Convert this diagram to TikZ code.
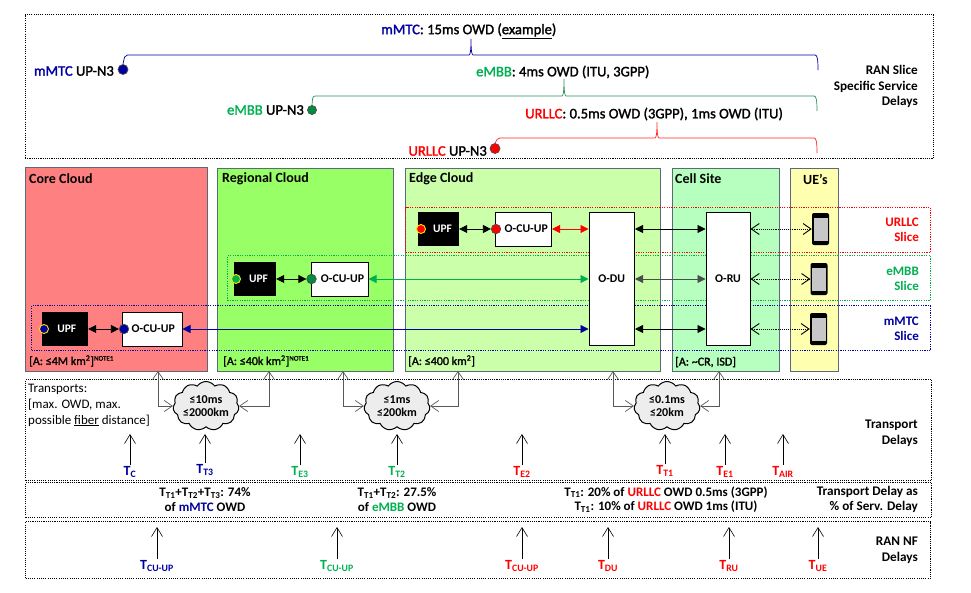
\documentclass[tikz,border=0pt]{standalone}
\usepackage{fontspec}
\setmainfont{Carlito}
\newfontfamily\semi[FakeBold=1.6]{Carlito}
\usetikzlibrary{arrows.meta,shapes.symbols,calc}
\definecolor{cmm}{HTML}{0000A0}
\definecolor{cem}{HTML}{00B050}
\definecolor{cur}{HTML}{FF0000}
\definecolor{cedge}{HTML}{5A6A78}
\newcommand{\fs}[1]{\fontsize{#1}{#1}\selectfont}
\newcommand{\mm}{\textcolor{cmm}}
\newcommand{\eb}{\textcolor{cem}}
\newcommand{\ur}{\textcolor{cur}}
\newcommand{\Tsub}[1]{T\textsubscript{#1}}
\newcommand{\bracepath}[8]{\draw[#1,line width=.7pt] (#2) .. controls ({#3},{#4+2}) and ({#3},#4) .. ({#3+3},#4) -- ({#5-2},#4) .. controls ({#5-1},#4) and (#5,{#4-3}) .. (#5,#6) .. controls (#5,{#4-3}) and ({#5+1},#4) .. ({#5+2},#4) -- ({#7-3},#4) .. controls ({#7-1},#4) and (#7,{#4+3}) .. (#7,#8);}
\tikzset{
  x=1pt,y=-1pt,
  lab/.style={inner sep=0pt,font=\fs{14.6}\semi},
  site/.style={draw=cedge,line width=1pt,inner sep=0pt,minimum width=0pt},
  sitetext/.style={inner sep=0pt,anchor=west,font=\fs{14}\bfseries},
  areatext/.style={inner sep=0pt,anchor=west,font=\fs{12}\semi},
  slicebox/.style={dash pattern=on 1.2pt off 1.2pt,line width=1.2pt},
  groupbox/.style={draw=black,dash pattern=on 1.1pt off 1.1pt,line width=1.1pt},
  upfbox/.style={fill=black,text=white,inner sep=0pt,font=\fs{11.5}\bfseries},
  wbox/.style={draw=black,fill=white,line width=1pt,inner sep=0pt,font=\fs{11.8}\bfseries},
  ringdot/.style={circle,draw=yellow!85!orange,line width=.9pt,inner sep=0pt,minimum size=9pt},
  cudot/.style={circle,draw=black!70,line width=.7pt,inner sep=0pt,minimum size=9.5pt},
  topdot/.style={circle,draw=black!70,line width=.7pt,inner sep=0pt,minimum size=10pt},
  solidboth/.style={{Triangle[length=8pt,width=8pt]}-{Triangle[length=8pt,width=8pt]},line width=.8pt},
  openboth/.style={{Straight Barb[length=8pt,width=11pt]}-{Straight Barb[length=8pt,width=11pt]},line width=.7pt,color=black!65},
  radio/.style={{Straight Barb[length=8pt,width=11pt]}-{Straight Barb[length=8pt,width=11pt]},densely dotted,line width=.9pt},
  uparrow/.style={-{Straight Barb[length=9pt,width=11pt]},line width=.6pt},
  tlab/.style={inner sep=0pt,font=\fs{14}\bfseries},
  pct/.style={inner sep=0pt,align=center,font=\fs{13}\bfseries},
  slicetext/.style={inner sep=0pt,align=right,anchor=east,font=\fs{13}\bfseries},
  delaytext/.style={inner sep=0pt,align=right,anchor=east,font=\fs{13.2}\bfseries},
  cloudnode/.style={cloud,cloud puffs=11,cloud puff arc=110,aspect=1.35,draw=black,fill=black!7,line width=1pt,inner sep=0pt,minimum width=66pt,minimum height=49pt},
  cloudtext/.style={align=center,inner sep=0pt,font=\fs{12}\bfseries},
  phonebody/.style={fill=black,rounded corners=2pt,minimum width=17pt,minimum height=32pt,inner sep=0pt},
  phonescreen/.style={fill=black!22,minimum width=14pt,minimum height=23pt,inner sep=0pt}
}
\begin{document}
\begin{tikzpicture}
\useasboundingbox (0,0) rectangle (971,592);
% group boxes
\node[groupbox,minimum width=908.5pt,minimum height=144pt,anchor=north west,inner sep=0pt] (topbox) at (24.5,14) {};
\node[groupbox,minimum width=906pt,minimum height=101pt,anchor=north west,inner sep=0pt] (trbox) at (25,379) {};
\node[groupbox,minimum width=906pt,minimum height=35pt,anchor=north west,inner sep=0pt] (pctbox) at (25,482) {};
\node[groupbox,minimum width=905pt,minimum height=57pt,anchor=north west,inner sep=0pt] (nfbox) at (25,521) {};
% sites
\node[site,fill=red!50,minimum width=181.5pt,minimum height=204pt,anchor=north west] (core) at (25,167) {};
\node[site,fill={rgb,255:red,153;green,255;blue,102},minimum width=175.5pt,minimum height=203pt,anchor=north west] (regional) at (217,168) {};
\node[site,fill={rgb,255:red,204;green,255;blue,170},minimum width=255pt,minimum height=203pt,anchor=north west] (edge) at (405,168) {};
\node[site,fill={rgb,255:red,182;green,255;blue,190},minimum width=107pt,minimum height=203pt,anchor=north west] (cell) at (672,168) {};
\node[site,fill={rgb,255:red,255;green,255;blue,176},minimum width=48pt,minimum height=203pt,anchor=north west] (ue) at (790,168) {};
\node[sitetext] (t1) at (29,179) {Core Cloud};
\node[sitetext] (t2) at (222,179) {Regional Cloud};
\node[sitetext] (t3) at (409,179) {Edge Cloud};
\node[sitetext] (t4) at (675,179) {Cell Site};
\node[sitetext] (t5) at (803,179) {UE’s};
\node[areatext] (a1) at (29,361) {[A: ≤4M km\textsuperscript{2}]\textsuperscript{\fs{7}NOTE1}};
\node[areatext] (a2) at (223,361) {[A: ≤40k km\textsuperscript{2}]\textsuperscript{\fs{7}NOTE1}};
\node[areatext] (a3) at (408,361) {[A: ≤400 km\textsuperscript{2}]};
\node[areatext] (a4) at (675,362) {[A: \textasciitilde CR, ISD]};
% slice boxes
\node[slicebox,draw=cur,minimum width=525pt,minimum height=45pt,anchor=north west,inner sep=0pt] (sliceU) at (405,207) {};
\node[slicebox,draw=cem,minimum width=703pt,minimum height=45pt,anchor=north west,inner sep=0pt] (sliceE) at (227,255) {};
\node[slicebox,draw=cmm,minimum width=899pt,minimum height=45pt,anchor=north west,inner sep=0pt] (sliceM) at (31,305) {};
% NFs
\node[upfbox,minimum width=46.5pt,minimum height=34pt] (upfM) at (64.75,329) {\hspace{4pt}UPF};
\node[wbox,minimum width=59.5pt,minimum height=34pt] (cuM) at (152.25,329) {\hspace{2pt}O-CU-UP};
\node[upfbox,minimum width=42pt,minimum height=34pt] (upfE) at (255,279) {\hspace{7pt}UPF};
\node[wbox,minimum width=57pt,minimum height=34pt] (cuE) at (339.5,279) {\hspace{6pt}O-CU-UP};
\node[upfbox,minimum width=41pt,minimum height=34pt] (upfU) at (438.5,229) {\hspace{8pt}UPF};
\node[wbox,minimum width=56.5pt,minimum height=34pt] (cuU) at (523.25,229) {\hspace{6pt}O-CU-UP};
\node[wbox,minimum width=45.5pt,minimum height=133pt] (odu) at (611.75,278.5) {O-DU};
\node[wbox,minimum width=44pt,minimum height=133pt] (oru) at (728,278.5) {O-RU};
% dots
\node[ringdot,fill=cmm] (rdM) at (44,329) {};
\node[ringdot,fill=cem] (rdE) at (236,279) {};
\node[ringdot,fill=cur] (rdU) at (421,229) {};
\node[cudot,fill=cmm] (cdM) at (124,329) {};
\node[cudot,fill=cem!80!black] (cdE) at (311.5,279) {};
\node[cudot,fill=cur] (cdU) at (496,229) {};
% connectors inside
\draw[solidboth] (upfM.east) -- (cdM.west);
\draw[solidboth] (upfE.east) -- (cdE.west);
\draw[solidboth] (upfU.east) -- (cdU.west);
\draw[solidboth,cmm] (cuM.east) -- (cuM.east -| odu.west);
\draw[solidboth,cem] (cuE.east) -- (cuE.east -| odu.west);
\draw[solidboth,cur] (cuU.east) -- (cuU.east -| odu.west);
\draw[solidboth] (odu.east |- cuU) -- (oru.west |- cuU);
\draw[solidboth,black!70] (odu.east |- cuE) -- (oru.west |- cuE);
\draw[solidboth] (odu.east |- cuM) -- (oru.west |- cuM);
% phones
\node[phonebody] (phU) at (820.5,229) {};
\node[phonescreen] at (phU) {};
\node[phonebody] (phE) at (819,279) {};
\node[phonescreen] at (phE) {};
\node[phonebody] (phM) at (818.5,329) {};
\node[phonescreen] at (phM) {};
\draw[radio] (oru.east |- phU) -- (phU.west);
\draw[radio] (oru.east |- phE) -- (phE.west);
\draw[radio] (oru.east |- phM) -- (phM.west);
% slice text
\node[slicetext,text=cur] (sU) at (919,230) {URLLC\\[2pt]Slice};
\node[slicetext,text=cem] (sE) at (919,279) {eMBB\\[2pt]Slice};
\node[slicetext,text=cmm] (sM) at (919,329) {mMTC\\[2pt]Slice};
% top section
\node[lab,anchor=west] (lbM) at (381,31) {\mm{mMTC}: 15ms OWD (\underline{example})};
\node[lab,anchor=west] (lbE) at (476,72) {\eb{eMBB}: 4ms OWD (ITU, 3GPP)};
\node[lab,anchor=west] (lbU) at (525,114) {\ur{URLLC}: 0.5ms OWD (3GPP), 1ms OWD (ITU)};
\node[lab,anchor=east] (upM) at (114,71) {\mm{mMTC} UP-N3};
\node[lab,anchor=east] (upE) at (304,110) {\eb{eMBB} UP-N3};
\node[lab,anchor=east] (upU) at (487,151) {\ur{URLLC} UP-N3};
\node[topdot,fill=cmm] (dotM) at (123,69.5) {};
\node[topdot,fill=cem!80!black,minimum size=9pt] (dotE) at (312,110) {};
\node[topdot,fill=cur] (dotU) at (495,148.5) {};
\bracepath{cmm}{dotM.north}{124.5}{55}{471}{39}{818}{70}
\bracepath{cem!70!black!85}{dotE.north}{312.5}{96}{564}{79}{817}{111}
\bracepath{cur!85}{dotU.north}{497}{138}{657}{122}{817}{153}
\node[delaytext] (rs) at (918,86.5) {RAN Slice\\[2.4pt]Specific Service\\[2.4pt]Delays};
% clouds
\node[cloudnode,label={[cloudtext]center:≤10ms\\[1pt]≤2000km}] (cl1) at (206,406) {};
\node[cloudnode,label={[cloudtext]center:≤1ms\\[1pt]≤200km}] (cl2) at (397,406) {};
\node[cloudnode,label={[cloudtext]center:≤0.1ms\\[1pt]≤20km}] (cl3) at (667,406) {};
\coordinate (c1a) at (158,371); \coordinate (c1b) at (269,371);
\coordinate (c2a) at (343,371); \coordinate (c2b) at (458,371);
\coordinate (c3a) at (613,371); \coordinate (c3b) at (719,371);
\draw[openboth] (c1a) |- (cl1.west);
\draw[openboth] (c1b) |- (cl1.east);
\draw[openboth] (c2a) |- (cl2.west);
\draw[openboth] (c2b) |- (cl2.east);
\draw[openboth] (c3a) |- (cl3.west);
\draw[openboth] (c3b) |- (cl3.east);
\node[inner sep=0pt,anchor=north west,align=left,font=\fs{13}] (tr) at (28,383.5) {Transports:\\[3pt]{[}max. OWD, max.\\[3pt]possible \underline{fiber} distance]};
\node[delaytext] (trd) at (918,433) {Transport\\[2.4pt]Delays};
% transport arrows
\foreach \nm/\xx/\yy/\col/\txt in {tc/130/472/cmm/C,tt3/205/470/cmm/T3,te3/300/472/cem/E3,tt2/397/472/cem/T2,te2/522/472/cur/E2,tt1/665/471/cur/T1,te1/725/472/cur/E1,tair/783/472/cur/AIR}{
  \node[tlab,text=\col] (\nm) at (\xx,\yy) {\Tsub{\txt}};
  \coordinate (\nm top) at (\xx,434);
  \draw[uparrow] (\nm.north) ++(0,-1) -- (\nm top);
}
% NF arrows
\foreach \nm/\xx/\col/\txt in {nc1/157/cmm/CU-UP,nc2/337/cem/CU-UP,nc3/522/cur/CU-UP,nd/608/cur/DU,nr/729/cur/RU,nu/818/cur/UE}{
  \node[tlab,text=\col] (\nm) at (\xx,566) {\Tsub{\txt}};
  \coordinate (\nm top) at (\xx,527);
  \draw[uparrow] (\nm.north) ++(0,-1) -- (\nm top);
}
% percentage row
\node[pct] (p1) at (205,499.5) {\Tsub{T1}+\Tsub{T2}+\Tsub{T3}: 74\%\\[1.5pt]of \mm{mMTC} OWD};
\node[pct] (p2) at (397,499.5) {\Tsub{T1}+\Tsub{T2}: 27.5\%\\[1.5pt]of \eb{eMBB} OWD};
\node[pct] (p3) at (666,499.5) {\Tsub{T1}: 20\% of \ur{URLLC} OWD 0.5ms (3GPP)\\[1.5pt]\Tsub{T1}: 10\% of \ur{URLLC} OWD 1ms (ITU)};
\node[delaytext] (p4) at (918,499.5) {Transport Delay as\\[2.4pt]\% of Serv. Delay};
\node[delaytext] (nfd) at (918,550.5) {RAN NF\\[2.4pt]Delays};
\end{tikzpicture}
\end{document}
